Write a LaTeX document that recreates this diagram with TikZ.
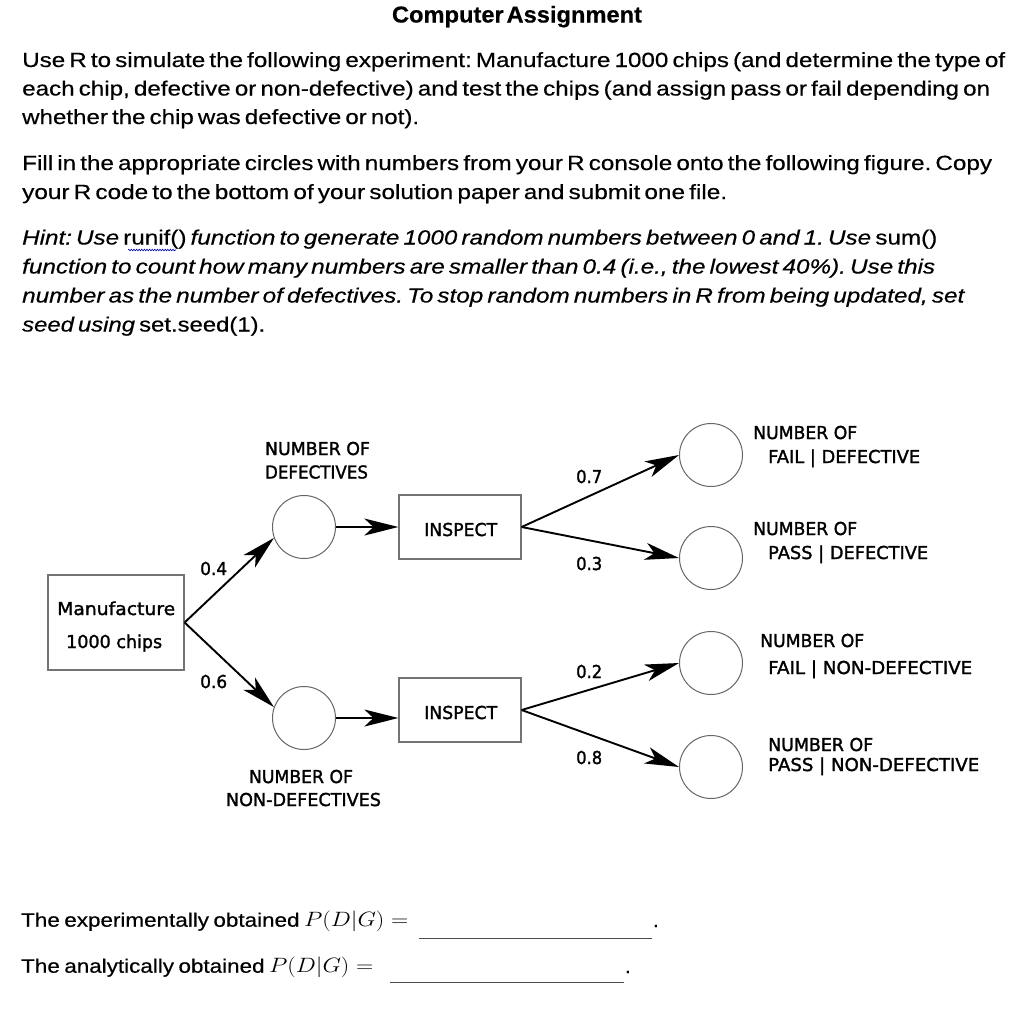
\documentclass[tikz,border=0pt]{standalone}
\usepackage{fontspec}
\setmainfont{Liberation Sans}[FakeBold=0.4]
\newfontfamily\diafont{DejaVu Sans}[FakeBold=1.6]
\usepackage{graphicx}
\usetikzlibrary{arrows.meta,decorations.pathmorphing}
\frenchspacing
\newcommand\fitto[2]{\resizebox{#1pt}{\height}{#2}}
\newcommand\fitsp[3]{\resizebox{#1pt}{\height}{\frenchspacing\spaceskip=#2em\relax #3}}
\begin{document}
\begin{tikzpicture}[x=1pt,y=-1pt,
  txt/.style={inner sep=0pt, anchor=base west, font=\fontsize{20.5}{24}\selectfont},
  ttl/.style={inner sep=0pt, anchor=base, font=\bfseries\fontsize{23}{26}\selectfont},
  dtxt/.style={inner sep=0pt, anchor=base west, font=\diafont\fontsize{17.8}{20}\selectfont},
  dtxc/.style={inner sep=0pt, anchor=base, font=\diafont\fontsize{17.8}{20}\selectfont},
  box/.style={draw=black!55, line width=1.2pt, inner sep=0pt},
  circ/.style={circle, draw=black!60, line width=1pt, minimum size=63pt, inner sep=0pt},
  arr/.style={line width=1.9pt, -{Stealth[length=34pt,width=17pt,inset=9pt]}},
  blank/.style={line width=1pt, draw=black!70}]
\useasboundingbox[fill=white] (0,0) rectangle (1024,1018);

% title and text
\node[ttl] (title) at (517,22.5) {\fitsp{250}{0.12}{Computer Assignment}};
\node[txt] (l1) at (22,67) {\fitsp{983}{0.17}{Use R to simulate the following experiment: Manufacture 1000 chips (and determine the type of}};
\node[txt] (l2) at (22,95.5) {\fitsp{968}{0.17}{each chip, defective or non-defective) and test the chips (and assign pass or fail depending on}};
\node[txt] (l3) at (22,124) {\fitsp{397}{0.17}{whether the chip was defective or not).}};
\node[txt] (l4) at (22,170) {\fitsp{970}{0.17}{Fill in the appropriate circles with numbers from your R console onto the following figure. Copy}};
\node[txt] (l5) at (22,199) {\fitsp{705}{0.17}{your R code to the bottom of your solution paper and submit one file.}};
\node[txt] (l6) at (22,244.5) {\fitsp{915}{0.17}{\textit{Hint: Use }runif()\textit{ function to generate 1000 random numbers between 0 and 1. Use }sum()}};
\node[txt] (l7) at (22,273.5) {\fitsp{913}{0.17}{\textit{function to count how many numbers are smaller than 0.4 (i.e., the lowest 40\%). Use this}}};
\node[txt] (l8) at (22,302.5) {\fitsp{943}{0.17}{\textit{number as the number of defectives. To stop random numbers in R from being updated, set}}};
\node[txt] (l9) at (22,331.5) {\fitsp{243}{0.17}{\textit{seed using }set.seed(1).}};
\coordinate (sq1) at (128,250);
\coordinate (sq2) at (176,250);
\draw[blue!70!black, line width=0.6pt, decorate, decoration={snake, amplitude=0.8pt, segment length=2.6pt}] (sq1) -- (sq2);

% diagram nodes
\node[box, minimum width=136pt, minimum height=95pt] (m) at (116,622.5) {};
\node[dtxt] (mt1) at (57,615) {\fitto{118}{Manufacture}};
\node[dtxt] (mt2) at (66,648) {\fitto{96}{1000 chips}};

\node[circ] (c1) at (304,527) {};
\node[circ] (c2) at (304,718) {};
\node[box, minimum width=122pt, minimum height=64pt] (i1) at (460,527) {};
\node[box, minimum width=122pt, minimum height=64pt] (i2) at (460,710) {};
\node[dtxt] (i1t) at (424,536) {\fitto{73}{INSPECT}};
\node[dtxt] (i2t) at (424,719) {\fitto{73}{INSPECT}};

\node[circ] (r1) at (711,455) {};
\node[circ] (r2) at (711,558) {};
\node[circ] (r3) at (711,663) {};
\node[circ] (r4) at (711,767) {};

% labels
\node[dtxc] (d1) at (317.5,455) {\fitto{105}{NUMBER OF}};
\node[dtxc] (d2) at (316.5,478.5) {\fitto{103}{DEFECTIVES}};
\node[dtxc] (n1) at (301,783) {\fitto{104}{NUMBER OF}};
\node[dtxc] (n2) at (303.5,806) {\fitto{155}{NON-DEFECTIVES}};

\node[dtxt] (p04) at (200,575) {\fitto{27}{0.4}};
\node[dtxt] (p06) at (200,688) {\fitto{27}{0.6}};
\node[dtxt] (p07) at (576,483) {\fitto{26}{0.7}};
\node[dtxt] (p03) at (576,570) {\fitto{26}{0.3}};
\node[dtxt] (p02) at (576,678) {\fitto{26}{0.2}};
\node[dtxt] (p08) at (576,764) {\fitto{26}{0.8}};

\node[dtxt] (a1) at (753,439) {\fitto{104}{NUMBER OF}};
\node[dtxt] (a2) at (768,463) {\fitto{152}{FAIL | DEFECTIVE}};
\node[dtxt] (b1) at (753,535) {\fitto{104}{NUMBER OF}};
\node[dtxt] (b2) at (768,559) {\fitto{160}{PASS | DEFECTIVE}};
\node[dtxt] (e1) at (760,647) {\fitto{104}{NUMBER OF}};
\node[dtxt] (e2) at (768,674) {\fitto{204}{FAIL | NON-DEFECTIVE}};
\node[dtxt] (f1) at (768,751) {\fitto{105}{NUMBER OF}};
\node[dtxt] (f2) at (768,771) {\fitto{211}{PASS | NON-DEFECTIVE}};

% connectors
\draw[arr] (m.east) -- (c1.200);
\draw[arr] (m.east) -- (c2.160);
\draw[arr] (c1.east) -- (i1.west);
\draw[arr] (c2.east) -- (c2.east -| i2.west);
\draw[arr] (i1.east) -- (r1.west);
\draw[arr] (i1.east) -- (r2.west);
\draw[arr] (i2.east) -- (r3.west);
\draw[arr] (i2.east) -- (r4.west);

% bottom
\node[txt, font=\fontsize{19.5}{22}\selectfont] (q1) at (21,926.7) {\fitsp{387}{0.2}{The experimentally obtained $P(D|G) =$}};
\node[txt, font=\fontsize{19.5}{22}\selectfont] (q2) at (21,972.7) {\fitsp{352}{0.2}{The analytically obtained $P(D|G) =$}};
\coordinate (u1a) at (419,938);
\coordinate (u1b) at (652,938);
\coordinate (u2a) at (390,982);
\coordinate (u2b) at (624,982);
\draw[blank] (u1a) -- (u1b);
\draw[blank] (u2a) -- (u2b);
\node[txt, font=\fontsize{19.5}{22}\selectfont] (dot1) at (653,927) {.};
\node[txt, font=\fontsize{19.5}{22}\selectfont] (dot2) at (625,973) {.};
\end{tikzpicture}
\end{document}
